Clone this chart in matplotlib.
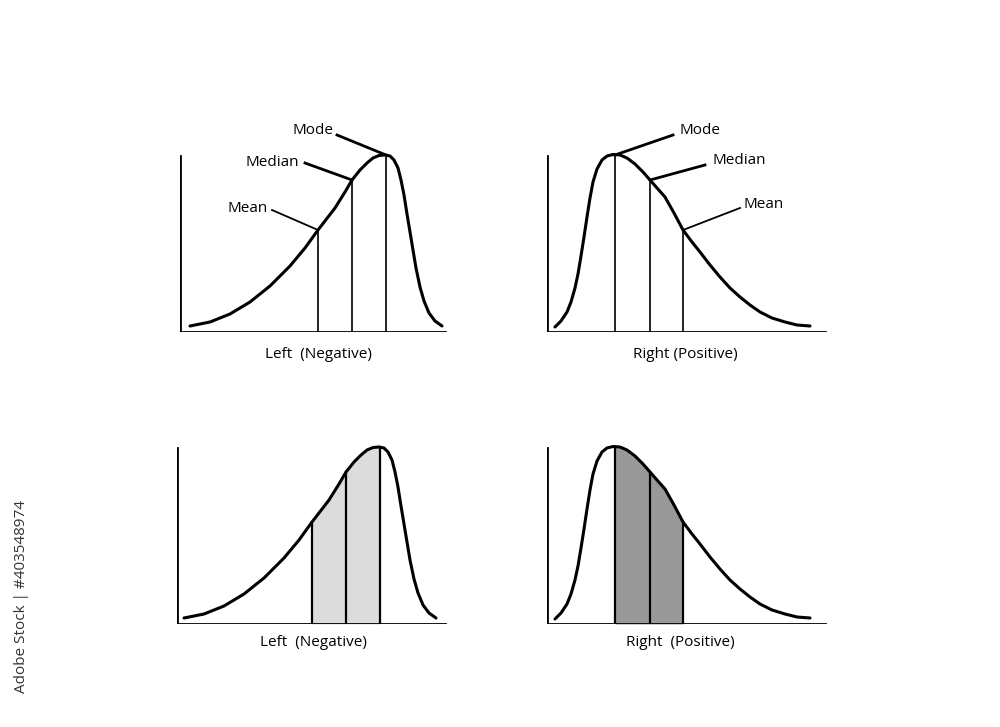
import matplotlib
matplotlib.use("Agg")
import matplotlib.pyplot as plt

# curve points, local units (pixels from each panel's origin)
left_x = [10, 30, 50, 70, 90, 110, 125, 138, 155, 165, 172, 180, 187, 193, 199, 205, 210, 214, 218, 221,
          224, 227, 230, 233, 236, 240, 244, 249, 255, 262]
left_y = [6, 10, 18, 30, 46, 66, 84, 102, 124, 140, 152, 162, 169, 174, 176.5, 177, 176, 172, 164, 152,
          137, 118, 100, 82, 64, 45, 31, 19, 11, 6]
left_marks = [138, 172, 206]      # mean, median, mode
left_heights = [102, 152, 177]

right_x = [8, 14, 20, 24, 28, 31, 34, 37, 40, 43, 46, 50, 55, 60, 66, 73, 80, 88, 96, 103, 110, 118,
           127, 136, 145, 153, 163, 173, 183, 193, 203, 213, 225, 238, 250, 263]
right_y = [5, 11, 20, 30, 44, 58, 76, 95, 115, 134, 150, 163, 172, 176, 177.5, 177, 174, 168, 160, 152,
           144, 135, 119, 102, 90, 80, 67, 55, 44, 35, 27, 20, 14, 10, 7, 6]
right_marks = [68, 103, 136]      # mode, median, mean
right_heights = [177, 152, 102]

stat_names = ["Mean", "Median", "Mode"]
captions = ["Left  (Negative)", "Right (Positive)", "Left  (Negative)", "Right  (Positive)"]

plt.rcParams['font.family'] = ['Open Sans', 'DejaVu Sans']
fig = plt.figure(figsize=(10, 7.27), dpi=100)


def panel(ox, oy, xlen):
    ax = fig.add_axes([ox / 1000, (727 - oy) / 727, 300 / 1000, 200 / 727])
    ax.set_xlim(0, 300)
    ax.set_ylim(0, 200)
    ax.axis("off")
    ax.plot([0, 0], [0, 176], color="black", lw=2)
    ax.plot([0, xlen], [0, 0], color="black", lw=2)
    return ax


def draw(ax, xs, ys, marks, heights, fill=None):
    if fill:
        lo, hi = marks[0], marks[-1]
        sx = [lo] + [x for x in xs if lo < x < hi] + [hi]
        sy = [heights[0]] + [y for x, y in zip(xs, ys) if lo < x < hi] + [heights[-1]]
        ax.fill_between(sx, 0, sy, color=fill, lw=0)
    ax.plot(xs, ys, color="black", lw=2.2, solid_joinstyle="round", solid_capstyle="round")
    for m, h in zip(marks, heights):
        ax.plot([m, m], [0, h], color="black", lw=1.6 if fill else 1.2)


# top-left
ax = panel(180, 332, 265)
draw(ax, left_x, left_y, left_marks, left_heights)
lbl = [(68, 124, 92, 122), (92, 170, 125, 169), (133, 202, 157, 197)]
for name, (tx, ty, lx, ly), m, h in zip(stat_names, lbl, left_marks, left_heights):
    ax.text(tx, ty, name, ha="center", va="center", fontsize=11, clip_on=False)
    ax.plot([lx, m], [ly, h], color="black", lw=1.3 if name == "Mean" else 2, clip_on=False)
ax.text(138, -22, captions[0], ha="center", va="center", fontsize=11, clip_on=False)

# top-right
ax = panel(547, 332, 278)
draw(ax, right_x, right_y, right_marks, right_heights)
lbl = [(217, 128, 193, 124), (192, 172, 158, 167), (153, 202, 126, 197)]
for name, (tx, ty, lx, ly), m, h in zip(stat_names, lbl, right_marks[::-1], right_heights[::-1]):
    ax.text(tx, ty, name, ha="center", va="center", fontsize=11, clip_on=False)
    ax.plot([lx, m], [ly, h], color="black", lw=1.3 if name == "Mean" else 2, clip_on=False)
ax.text(138, -22, captions[1], ha="center", va="center", fontsize=11, clip_on=False)

# bottom-left (same shape, shifted a few pixels left)
ax = panel(177, 624, 268)
draw(ax, [x - 3 for x in left_x], left_y, [m - 3 for m in left_marks], left_heights, fill="#dcdcdc")
ax.text(136, -18, captions[2], ha="center", va="center", fontsize=11, clip_on=False)

# bottom-right
ax = panel(547, 624, 278)
draw(ax, right_x, right_y, right_marks, right_heights, fill="#999999")
ax.text(133, -18, captions[3], ha="center", va="center", fontsize=11, clip_on=False)

fig.text(0.022, 0.18, "Adobe Stock | #403548974", rotation=90, ha="center", va="center",
         fontsize=11, color="#333333")

fig.savefig("out.png", dpi=100, facecolor="white")
